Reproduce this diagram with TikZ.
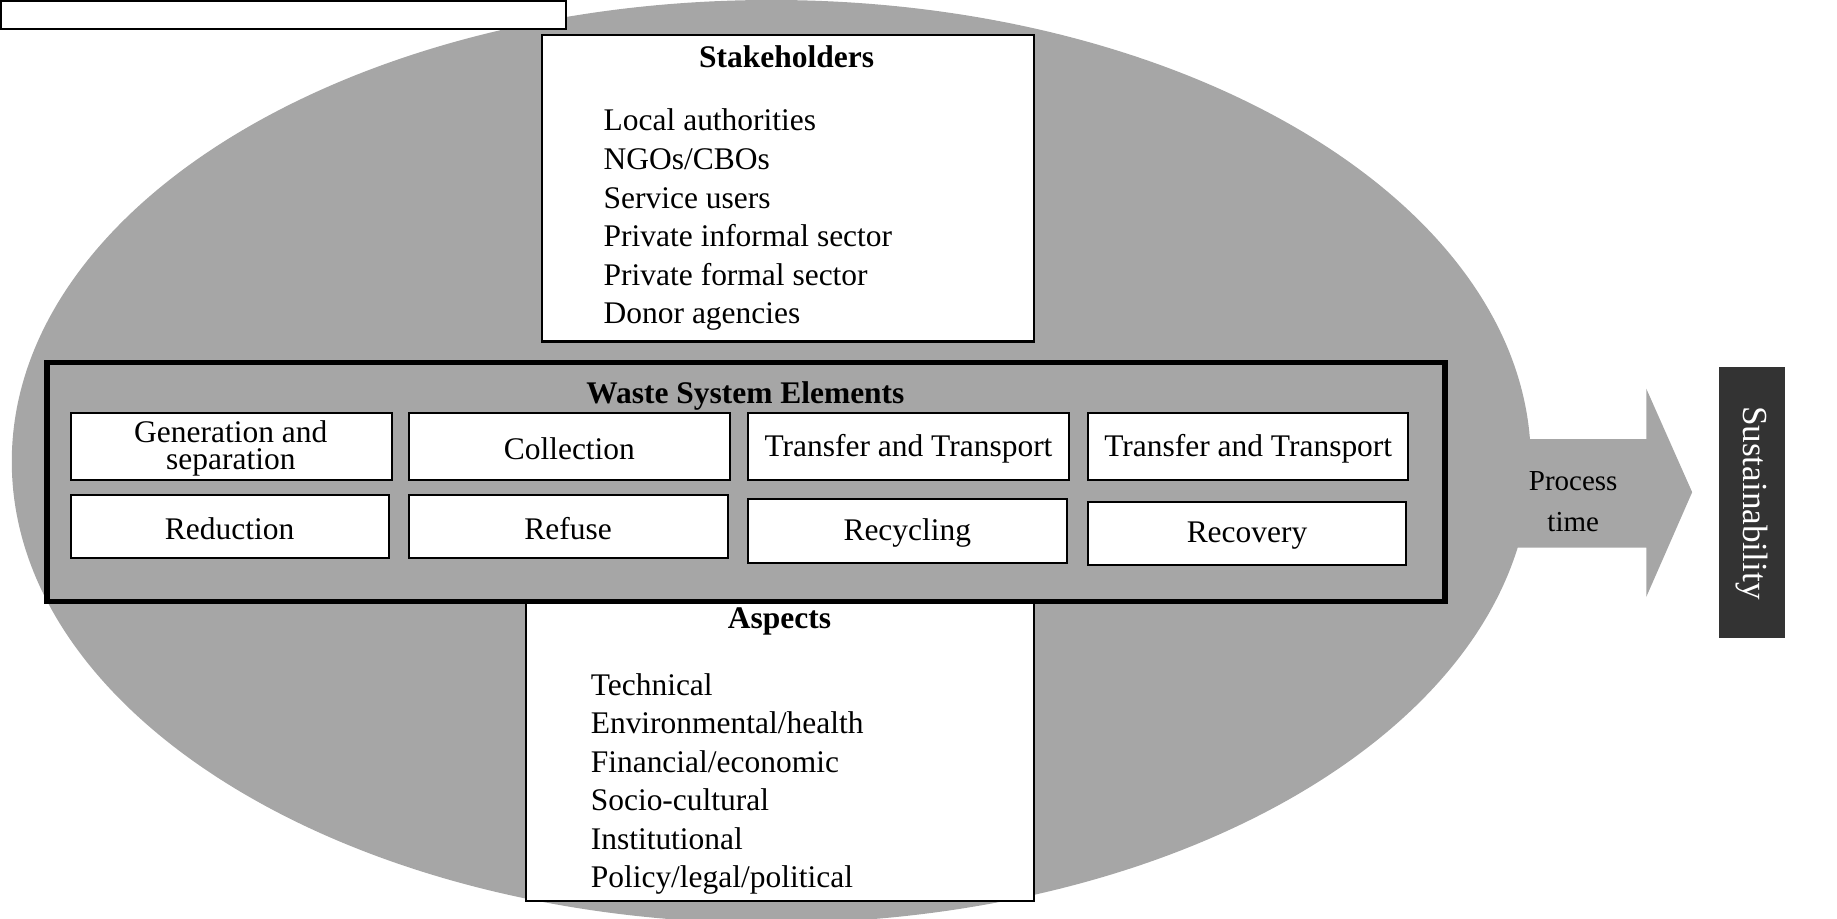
\documentclass[tikz,border=0pt]{standalone}
\usepackage{fontspec}
\setmainfont{Liberation Serif}
\begin{document}
\begin{tikzpicture}[x=0.01cm,y=-0.01cm,
  wbox/.style={draw=black,fill=white,line width=0.5pt},
  el/.style={wbox,font=\fontsize{7.6}{8}\selectfont},
  lst/.style={font=\fontsize{7.6}{9.3}\selectfont,align=left,anchor=north west,inner sep=0pt}]
\useasboundingbox (0,0) rectangle (1560,780);
\fill[fill=black!35] (655,392) ellipse [x radius=645, y radius=392];
% stakeholders
\draw[wbox] (460,30) rectangle (878,290);
\node[font=\fontsize{7.6}{9}\selectfont\bfseries] (st) at (668,48) {Stakeholders};
\node[lst] (stl) at (512,92) {Local authorities\\NGOs/CBOs\\Service users\\Private informal sector\\Private formal sector\\Donor agencies};
% aspects
\draw[wbox] (447,511) rectangle (878,765);
\node[font=\fontsize{7.6}{9}\selectfont\bfseries] (as) at (662,528) {Aspects};
\node[lst] (asl) at (501,571) {Technical\\Environmental/health\\Financial/economic\\Socio-cultural\\Institutional\\Policy/legal/political};
% waste system
\draw[line width=1.3pt,fill=black!35] (40,308) rectangle (1227,511);
\node[font=\fontsize{7.6}{9}\selectfont\bfseries] (ws) at (633,336) {Waste System Elements};
\node[el,minimum width=273\pgflinewidth,anchor=north west] at (0,0) {};
\foreach \xa/\ya/\xb/\yb/\t/\n in {60/351/333/408/{}/g,347/351/620/408/Collection/c,635/351/908/408/Transfer and Transport/t1,924/351/1196/408/Transfer and Transport/t2,60/420/330/474/Reduction/rd,347/420/618/474/Refuse/rf,635/424/906/478/Recycling/rc,924/426/1194/480/Recovery/rv}{
  \draw[wbox] (\xa,\ya) rectangle (\xb,\yb);
  \node[font=\fontsize{7.6}{8}\selectfont] (\n) at ({(\xa+\xb)/2},{(\ya+\yb)/2+2}) {\t};
}
\node[font=\fontsize{7.6}{6.5}\selectfont,align=center] (gs) at (196,381) {Generation and\\separation};
% arrow
\fill[black!35] (1285,373) -- (1398,373) -- (1398,330) -- (1437,418) -- (1398,507) -- (1398,465) -- (1285,465) -- cycle;
\node[font=\fontsize{7}{10}\selectfont,align=center] (pt) at (1336,426) {Process\\time};
\node[fill=black!80,minimum width=0.56cm,minimum height=2.3cm,inner sep=0pt] (su) at (1488,427) {};
\node[rotate=-90,text=white,font=\fontsize{8.5}{9}\selectfont] at (su) {Sustainability};
\end{tikzpicture}
\end{document}
